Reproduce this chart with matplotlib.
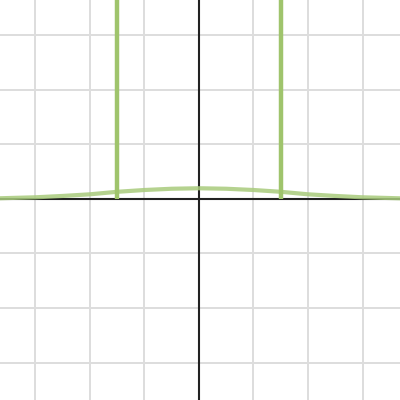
import matplotlib
matplotlib.use("Agg")
import matplotlib.pyplot as plt

# curve values (graph units)
curve_x = [-3.7, -3.0, -2.5, -2.0, -1.5, -1.0, -0.5, 0.0, 0.5, 1.0, 1.5, 2.0, 2.5, 3.0, 3.7]
curve_y = [0.012, 0.031, 0.056, 0.086, 0.132, 0.165, 0.188, 0.197, 0.188, 0.165, 0.132, 0.086, 0.056, 0.031, 0.012]
# vertical bounds
bound_x = [-1.5, 1.5]
bound_y0 = [0.0, 0.0]
bound_y1 = [10.0, 10.0]
grid_ticks = [-3, -2, -1, 0, 1, 2, 3]

fig = plt.figure(figsize=(4, 4), dpi=100)
ax = fig.add_axes([0, 0, 1, 1])
ax.set_xlim(-3.651, 3.688)
ax.set_ylim(-3.688, 3.651)
ax.set_xticks(grid_ticks)
ax.set_yticks(grid_ticks)
ax.grid(True, color="#dddddd", linewidth=1.4)
ax.tick_params(length=0, labelbottom=False, labelleft=False)
for s in ax.spines.values():
    s.set_visible(False)
ax.axhline(0, color="#222222", linewidth=1.5, zorder=2)
ax.axvline(0, color="#222222", linewidth=1.5, zorder=2)

ax.plot(curve_x, curve_y, color="#a8cb7c", linewidth=3.0, alpha=0.85, zorder=3,
        solid_capstyle="butt")
ax.vlines(bound_x, bound_y0, bound_y1, color="#9fc46c", linewidth=3.2, zorder=4)

fig.savefig("out.png", dpi=100)
